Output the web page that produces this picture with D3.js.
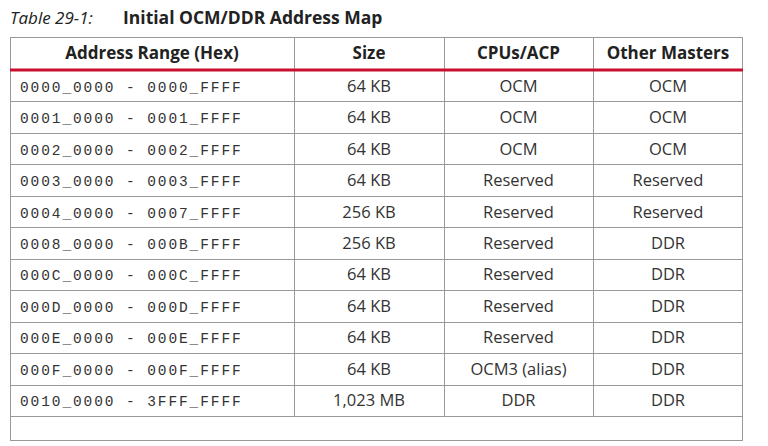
<!DOCTYPE html><html><head><meta charset="utf-8"><script src="https://cdn.jsdelivr.net/npm/d3@7"></script>
<style>body{margin:0;background:#fff}</style></head><body><svg id="c" width="768" height="446"></svg><script>
const title = "Initial OCM/DDR Address Map";
const columns = ["Address Range (Hex)", "Size", "CPUs/ACP", "Other Masters"];
const ranges = ["0000_0000 - 0000_FFFF","0001_0000 - 0001_FFFF","0002_0000 - 0002_FFFF","0003_0000 - 0003_FFFF","0004_0000 - 0007_FFFF","0008_0000 - 000B_FFFF","000C_0000 - 000C_FFFF","000D_0000 - 000D_FFFF","000E_0000 - 000E_FFFF","000F_0000 - 000F_FFFF","0010_0000 - 3FFF_FFFF"];
const sizes = ["64 KB","64 KB","64 KB","64 KB","256 KB","256 KB","64 KB","64 KB","64 KB","64 KB","1,023 MB"];
const cpus = ["OCM","OCM","OCM","Reserved","Reserved","Reserved","Reserved","Reserved","Reserved","OCM3 (alias)","DDR"];
const others = ["OCM","OCM","OCM","Reserved","Reserved","DDR","DDR","DDR","DDR","DDR","DDR"];

const svg = d3.select("#c");
const colEdges = [10, 294, 444, 593, 743];
const colX = i => colEdges[i];
const headTop = 37, headBot = 70;
const y = d3.scaleLinear().domain([0, ranges.length]).range([headBot, headBot + 31.45*ranges.length]);
const bottom = 440;
const font = "'Open Sans', sans-serif";

svg.append("text").attr("x",10).attr("y",24).attr("font-family",font).attr("font-size",17).attr("font-style","italic").attr("fill","#222").text("Table 29-1:");
svg.append("text").attr("x",123).attr("y",24).attr("font-family",font).attr("font-size",17.5).attr("font-weight","bold").attr("fill","#222").text(title);

const g = svg.append("g").attr("stroke","#999").attr("stroke-width",1);
g.append("rect").attr("x",10.5).attr("y",headTop+0.5).attr("width",732).attr("height",bottom-headTop).attr("fill","none");
[1,2,3].forEach(i=>g.append("line").attr("x1",colX(i)+0.5).attr("x2",colX(i)+0.5).attr("y1",headTop).attr("y2",y(ranges.length)));
d3.range(1, ranges.length+1).forEach(i=>g.append("line").attr("x1",10).attr("x2",743).attr("y1",Math.round(y(i))+0.5).attr("y2",Math.round(y(i))+0.5));
svg.append("line").attr("x1",10).attr("x2",743).attr("y1",headBot).attr("y2",headBot).attr("stroke","#c8102e").attr("stroke-width",3);

columns.forEach((c,i)=>svg.append("text").attr("x",(colX(i)+colX(i+1))/2).attr("y",59).attr("text-anchor","middle")
  .attr("font-family",font).attr("font-weight","bold").attr("font-size",17).attr("fill","#222").text(c));

const rows = svg.append("g");
ranges.forEach((r,i)=>{
  const cy = (y(i)+y(i+1))/2 + 6;
  rows.append("text").attr("x",20).attr("y",cy).attr("font-family","'Liberation Mono', monospace").attr("font-size",14.5).attr("letter-spacing",1.9).attr("fill","#333").style("white-space","pre").text(r);
  [sizes[i],cpus[i],others[i]].forEach((t,j)=>rows.append("text").attr("x",(colX(j+1)+colX(j+2))/2).attr("y",cy).attr("text-anchor","middle")
    .attr("font-family",font).attr("font-size",16.5).attr("fill","#333").text(t));
});
</script></body></html>
